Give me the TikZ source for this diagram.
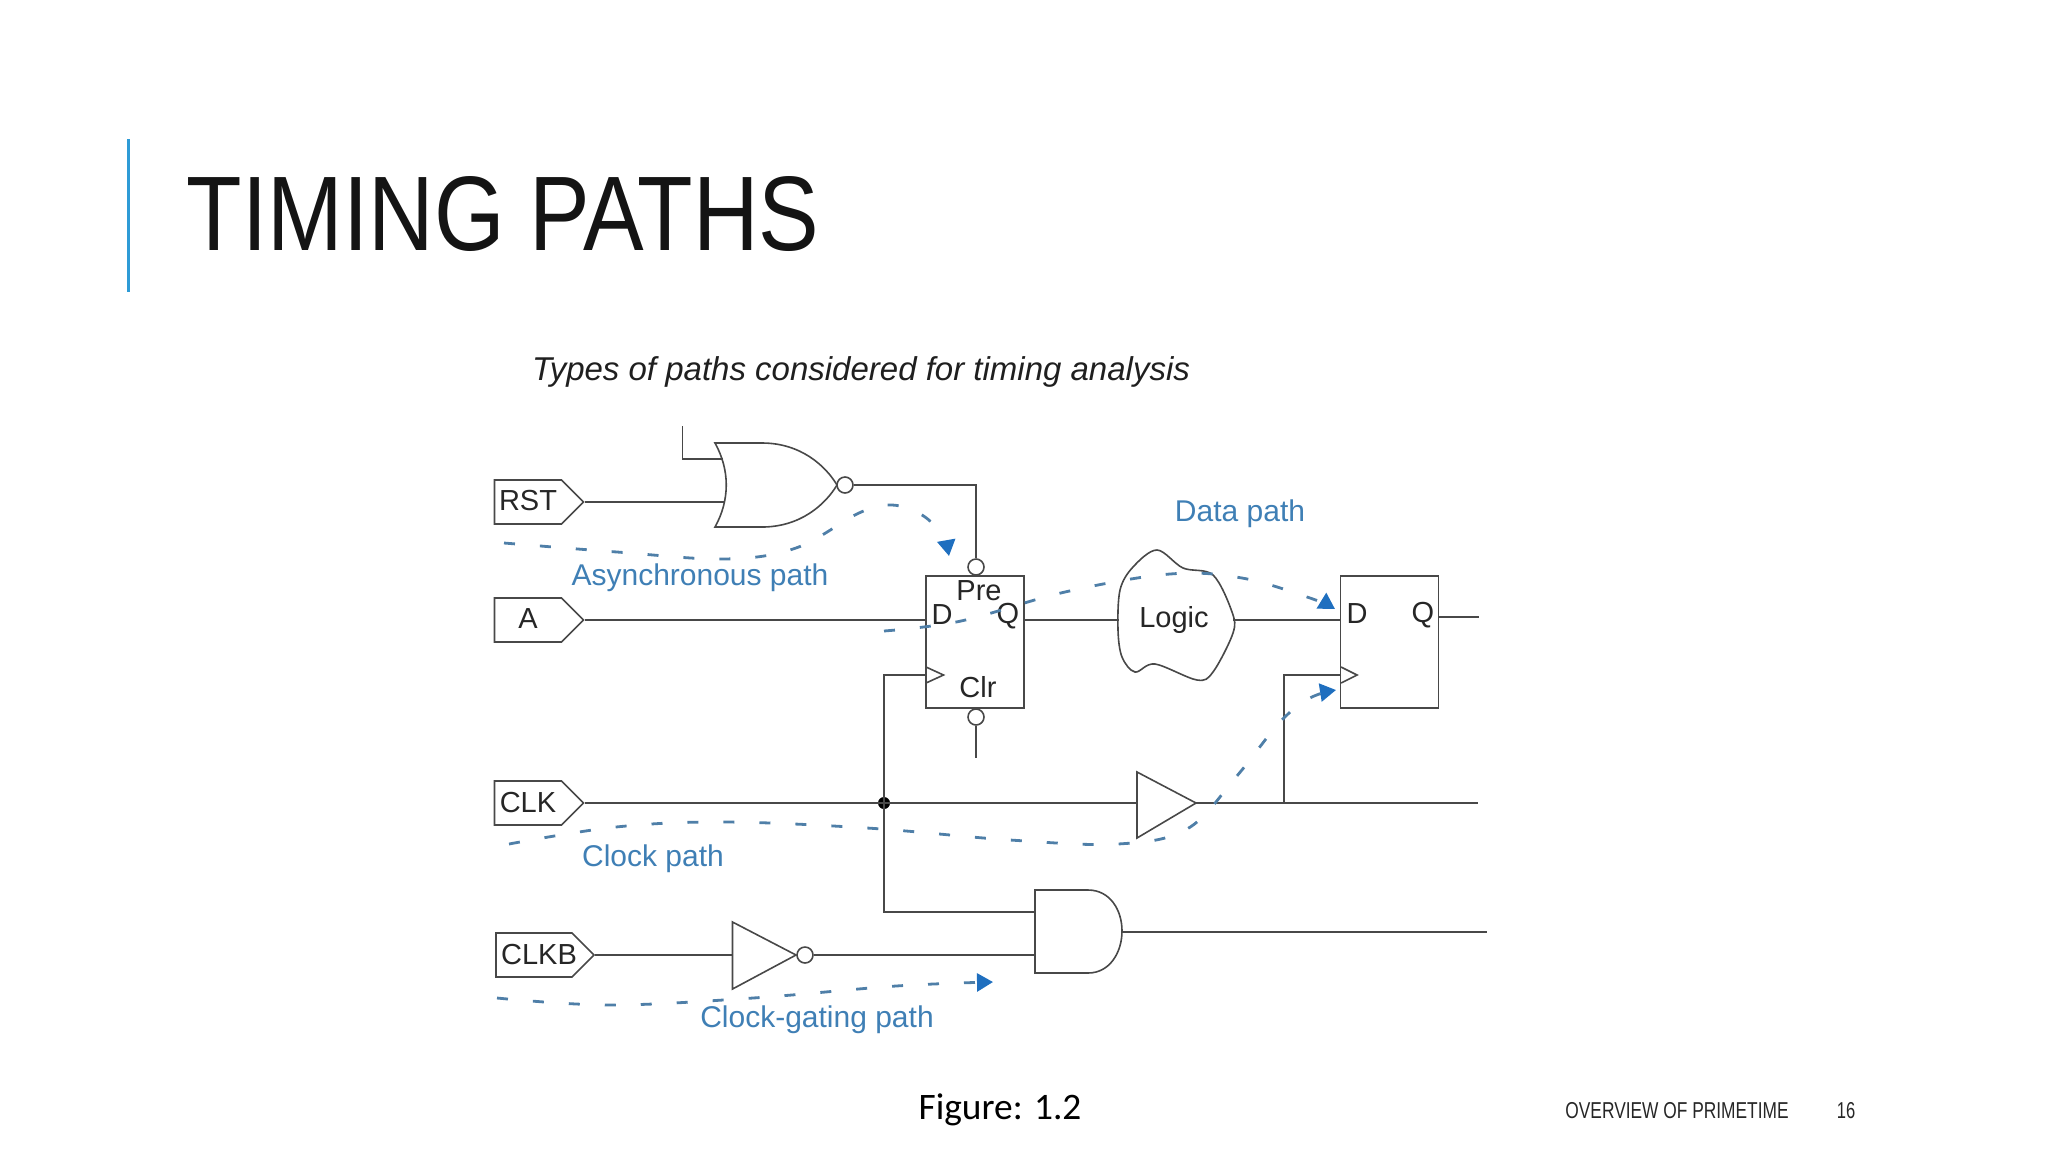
\documentclass[tikz,border=0pt]{standalone}
\usepackage{fontspec}
\setmainfont{Liberation Sans}
\newfontfamily\capfont{Carlito}
\usetikzlibrary{arrows.meta,calc,positioning,shapes.symbols}
\definecolor{wirecol}{HTML}{484848}
\definecolor{pathcol}{HTML}{4F7FA8}
\definecolor{tipcol}{HTML}{1F6FBF}
\definecolor{labelcol}{HTML}{3F7FB5}
\definecolor{barcol}{HTML}{2E9BD6}

\begin{document}
\begin{tikzpicture}[x=0.5pt,y=-0.5pt,
		wire/.style={draw=wirecol,line width=0.8pt},
		tagbox/.style={wire,signal,signal to=east,signal pointer angle=90,minimum height=22pt,inner sep=0pt,font=\fontsize{14.5}{16}\selectfont},
		ffbox/.style={wire,rectangle,minimum width=49pt,minimum height=66pt},
		bubble/.style={wire,circle,fill=white,minimum size=8pt,inner sep=0pt},
		pintext/.style={inner sep=0pt,text=black!85,font=\fontsize{14.5}{16}\selectfont},
		pathtext/.style={inner sep=0pt,text=labelcol,font=\fontsize{15}{17}\selectfont},
		dashpath/.style={pathcol,line width=1.4pt,dash pattern=on 5.5pt off 12.5pt,-{Triangle[length=8pt,width=9pt,color=tipcol,fill=tipcol]}},
	]
	\useasboundingbox (0,0) rectangle (2048,1152);
	% slide
	\coordinate (bar_t) at (128,139);
	\coordinate (bar_b) at (128,292);
	\draw[barcol,line width=1.5pt] (bar_t) -- (bar_b);
	\node[inner sep=0pt,xscale=.857,text=black!92,font=\fontsize{53}{60}\selectfont] (title) at (503,214) {TIMING PATHS};
	\node[inner sep=0pt,text=black!88,font=\fontsize{16.5}{19}\selectfont\itshape] (subtitle) at (861,372) {Types of paths considered for timing analysis};
	\node[inner sep=0pt,font=\capfont\fontsize{18.7}{21}\selectfont] (figcap) at (1000,1110) {Figure: 1.2};
	\node[inner sep=0pt,xscale=.754,text=black!85,font=\fontsize{11.5}{14}\selectfont] (footer) at (1677,1111) {OVERVIEW OF PRIMETIME};
	\node[inner sep=0pt,xscale=.72,text=black!85,font=\fontsize{11.5}{14}\selectfont] (pageno) at (1846,1111) {16};
	% tags
	\node[tagbox,minimum width=44.5pt] (rst_tag) at (528,502) {};
	\node[tagbox,minimum width=44.5pt] (a_tag) at (528,620) {};
	\node[tagbox,minimum width=44.5pt] (clk_tag) at (528,803) {};
	\node[tagbox,minimum width=49pt] (clkb_tag) at (534,955) {};
	\node[pintext] (rst_txt) at (528,501) {RST};
	\node[pintext] (a_txt) at (528,619) {A};
	\node[pintext] (clk_txt) at (528,802) {CLK};
	\node[pintext] (clkb_txt) at (539,954) {CLKB};
	% flops
	\node[ffbox] (ff_a) at (975,642) {};
	\node[ffbox] (ff_b) at (1389.5,642) {};
	\node[pintext] (ff_a_pre) at (979,591) {Pre};
	\node[pintext] (ff_a_d) at (942,615) {D};
	\node[pintext] (ff_a_q) at (1008,616) {Q};
	\node[pintext] (ff_a_clr) at (978,687) {Clr};
	\node[pintext] (ff_b_d) at (1357,614) {D};
	\node[pintext] (ff_b_q) at (1423,615) {Q};
	\draw[wire] (926,667) -- (943.5,675) -- (926,683);
	\draw[wire] (1341,667) -- (1357,675) -- (1341,683);
	% gates
	\draw[wire] (715,443) -- (762,443) .. controls (800,443) and (825,465) .. (837,485)
		.. controls (825,505) and (800,527) .. (762,527) -- (715,527)
		.. controls (730,500) and (730,470) .. (715,443) -- cycle;
	\draw[wire] (1035,890) -- (1088,890) .. controls (1110,890) and (1122,910) .. (1122,931)
		.. controls (1122,952) and (1110,973) .. (1088,973) -- (1035,973) -- cycle;
	\draw[wire] (1137,772) -- (1196,803) -- (1137,838) -- cycle;
	\draw[wire] (732.5,922) -- (796,955) -- (732.5,989) -- cycle;
	\node[bubble] (nor_bub) at (845,485) {};
	\node[bubble] (pre_bub) at (976,567) {};
	\node[bubble] (clr_bub) at (976,717) {};
	\node[bubble] (inv_bub) at (805,955) {};
	\draw[wire,fill=white] plot[smooth cycle,tension=.55] coordinates {(1157,550) (1183,568) (1213,575) (1232,612) (1233,633) (1213,672) (1197,680) (1155,664) (1135,672) (1122,657) (1118,630) (1120,590) (1133,567)};
	\node[pintext] (logic) at (1174,620) {Logic};
	% pins
	\coordinate (nor_a) at (723,459);
	\coordinate (nor_b) at (725,502);
	\coordinate (nor_in) at (682.5,426);
	\coordinate (clr_end) at (976,758);
	\coordinate (clk_a) at (926,675);
	\coordinate (clk_b) at (1341,675);
	\coordinate (buf_in) at (1137,803);
	\coordinate (buf_out) at (1196,803);
	\coordinate (buf_end) at (1478,803);
	\coordinate (inv_in) at (732.5,955);
	\coordinate (and_a) at (1035,912);
	\coordinate (and_b) at (1035,955);
	\coordinate (and_out) at (1122,932);
	\coordinate (and_end) at (1487,932);
	\coordinate (logic_l) at (1119,620);
	\coordinate (logic_r) at (1233,620);
	\coordinate (ff_b_qo) at (1438,617);
	\coordinate (ff_b_end) at (1479,617);
	\node[circle,fill=black,minimum size=6pt,inner sep=0pt] (clk_dot) at (884,803) {};
	\coordinate (buf_tap) at (1284,803);
	% wires
	\path[wire]
		(nor_in) |- (nor_a)
		(rst_tag.east) -- (nor_b)
		(nor_bub.east) -| (pre_bub.north)
		(clr_bub.south) -- (clr_end)
		(a_tag.east) -- (a_tag.east -| ff_a.west)
		(a_tag.east -| ff_a.east) -- (logic_l)
		(logic_r) -- (logic_r -| ff_b.west)
		(ff_b_qo) -- (ff_b_end)
		(clk_tag.east) -- (buf_in)
		(buf_out) -- (buf_end)
		(clk_a) -| (clk_dot.center)
		(clk_dot.center) |- (and_a)
		(clk_b) -| (buf_tap)
		(clkb_tag.east) -- (inv_in)
		(inv_bub.east) -- (and_b)
		(and_out) -- (and_end);
	% timing paths
	\draw[dashpath] plot[smooth,tension=.6] coordinates {(504,543) (617,552) (725,559) (796,548) (859,513) (892,505) (922,515) (942,535) (949,556)};
	\draw[dashpath] plot[smooth,tension=.6] coordinates {(884,631) (961,621) (1065,592) (1170,574) (1242,578) (1310,598) (1335,609)};
	\draw[dashpath] plot[smooth,tension=.6] coordinates {(509,844) (616,827) (724,822) (867,828) (1010,840) (1118,844) (1187,829) (1236,777) (1280,722) (1310,698) (1336,690)};
	\draw[dashpath] plot[smooth,tension=.6] coordinates {(497,998) (610,1005) (753,998) (896,986) (993,982)};
	\node[pathtext] (async_lbl) at (700,578) {Asynchronous path};
	\node[pathtext] (data_lbl) at (1240,514) {Data path};
	\node[pathtext] (clk_lbl) at (653,859) {Clock path};
	\node[pathtext] (gate_lbl) at (817,1020) {Clock-gating path};
\end{tikzpicture}
\end{document}
